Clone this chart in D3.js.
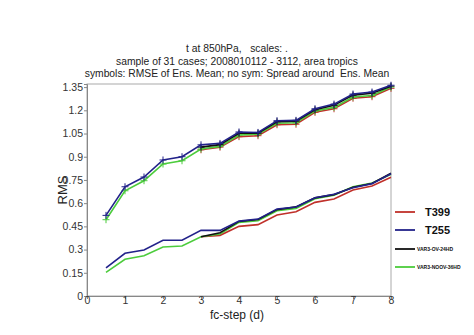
<!DOCTYPE html>
<html><head><meta charset="utf-8">
<script src="https://cdn.jsdelivr.net/npm/d3@7"></script>
<style>body{margin:0;background:#fff}svg{display:block}text{font-family:"Liberation Sans",Arial,sans-serif;white-space:pre}</style>
</head><body><svg id="c" width="474" height="335"></svg>
<script>
const steps = [0.5,1,1.5,2,2.5,3,3.5,4,4.5,5,5.5,6,6.5,7,7.5,8];
const stepsLate = [3,3.5,4,4.5,5,5.5,6,6.5,7,7.5,8];
// RMSE of ensemble mean (with symbols)
const rmseT255 = [0.521,0.706,0.769,0.879,0.900,0.977,0.986,1.060,1.057,1.133,1.135,1.210,1.240,1.305,1.318,1.362];
const rmseNOOV = [0.493,0.680,0.745,0.853,0.874,0.950,0.967,1.040,1.045,1.116,1.120,1.195,1.219,1.286,1.296,1.350];
const rmseT399 = [0.945,0.962,1.030,1.036,1.107,1.110,1.187,1.210,1.278,1.288,1.342];
const rmseOV24 = [0.962,0.978,1.052,1.052,1.126,1.130,1.203,1.232,1.298,1.310,1.356];
// Spread around ensemble mean (no symbols)
const sprT255 = [0.181,0.276,0.297,0.360,0.360,0.424,0.424,0.484,0.497,0.562,0.575,0.635,0.657,0.700,0.726,0.790];
const sprNOOV = [0.153,0.237,0.260,0.317,0.323,0.383,0.400,0.476,0.486,0.551,0.566,0.629,0.652,0.706,0.730,0.786];
const sprT399 = [0.383,0.392,0.450,0.461,0.523,0.545,0.605,0.627,0.685,0.711,0.767];
const sprOV24 = [0.383,0.409,0.482,0.494,0.558,0.576,0.634,0.655,0.703,0.727,0.793];
const yTicks = [0,0.15,0.3,0.45,0.6,0.75,0.9,1.05,1.2,1.35];
const xTicks = [0,1,2,3,4,5,6,7,8];
const legendNames = ["T399","T255","VAR3-OV-24HD","VAR3-NOOV-36HD"];
const colors = {T399:"#c0302a",T255:"#22228a",OV:"#111111",NOOV:"#4ccc3c"};
const titles = ["t at 850hPa,   scales: .","sample of 31 cases; 2008010112 - 3112, area tropics","symbols: RMSE of Ens. Mean; no sym: Spread around  Ens. Mean"];

const svg = d3.select("#c");
const x = d3.scaleLinear().domain([0,8]).range([87,391]);
const y = d3.scaleLinear().domain([0,1.37]).range([296,84]);

// frame
svg.append("rect").attr("x",87).attr("y",84).attr("width",304).attr("height",212)
  .attr("fill","none").attr("stroke","#aaa").attr("stroke-width",1);

const ya = svg.append("g").attr("transform","translate(87,0)")
  .call(d3.axisLeft(y).tickValues(yTicks).tickSize(3).tickFormat(d=>d===0?"0":d3.format("~g")(d)));
const xa = svg.append("g").attr("transform","translate(0,296)")
  .call(d3.axisBottom(x).tickValues(xTicks).tickSize(3).tickFormat(d3.format("d")));
[ya,xa].forEach(g=>{
  g.select(".domain").attr("stroke","#888");
  g.selectAll(".tick line").attr("stroke","#888");
  g.selectAll("text").attr("font-size",10.5).attr("fill","#333");
});
ya.selectAll("text").attr("x",-4);
xa.selectAll("text").attr("y",1);

svg.append("text").attr("x",237).attr("y",319).attr("text-anchor","middle")
  .attr("font-size",12).attr("fill","#222").text("fc-step (d)");
svg.append("text").attr("transform","translate(67,190) rotate(-90)").attr("text-anchor","middle")
  .attr("font-size",13).attr("fill","#222").text("RMS");

titles.forEach((t,i)=>svg.append("text").attr("x",237).attr("y",52+i*12.5)
  .attr("text-anchor","middle").attr("font-size",10.3).attr("fill","#222").attr("xml:space","preserve").text(t));

const line = d3.line().x(d=>x(d[0])).y(d=>y(d[1]));
function series(xs, vs, color, marks){
  const pts = xs.map((s,i)=>[s,vs[i]]);
  svg.append("path").datum(pts).attr("d",line).attr("fill","none")
    .attr("stroke",color).attr("stroke-width",1.6);
  if(marks){
    svg.append("g").selectAll("path").data(pts).join("path")
      .attr("d","M-3.5,0H3.5M0,-3.5V3.5")
      .attr("transform",d=>`translate(${x(d[0])},${y(d[1])})`)
      .attr("fill","none").attr("stroke",color).attr("stroke-width",1);
  }
}
// spread lines
series(stepsLate,sprT399,colors.T399,false);
series(steps,sprNOOV,colors.NOOV,false);
series(stepsLate,sprOV24,colors.OV,false);
series(steps,sprT255,colors.T255,false);
// rmse lines
series(stepsLate,rmseT399,colors.T399,true);
series(steps,rmseNOOV,colors.NOOV,true);
series(stepsLate,rmseOV24,colors.OV,true);
series(steps,rmseT255,colors.T255,true);

// legend
const lg = [
  {n:legendNames[0],c:colors.T399,y:212,big:true},
  {n:legendNames[1],c:colors.T255,y:230,big:true},
  {n:legendNames[2],c:colors.OV,y:249,big:false},
  {n:legendNames[3],c:colors.NOOV,y:267,big:false}];
lg.forEach(e=>{
  svg.append("line").attr("x1",395).attr("x2",415).attr("y1",e.y).attr("y2",e.y)
    .attr("stroke",e.c).attr("stroke-width",1.8);
  svg.append("text").attr("x",e.big?425:417).attr("y",e.y+(e.big?4:1.8))
    .attr("font-size",e.big?11:5).attr("font-weight","bold").attr("fill","#111").text(e.n);
});
</script></body></html>
